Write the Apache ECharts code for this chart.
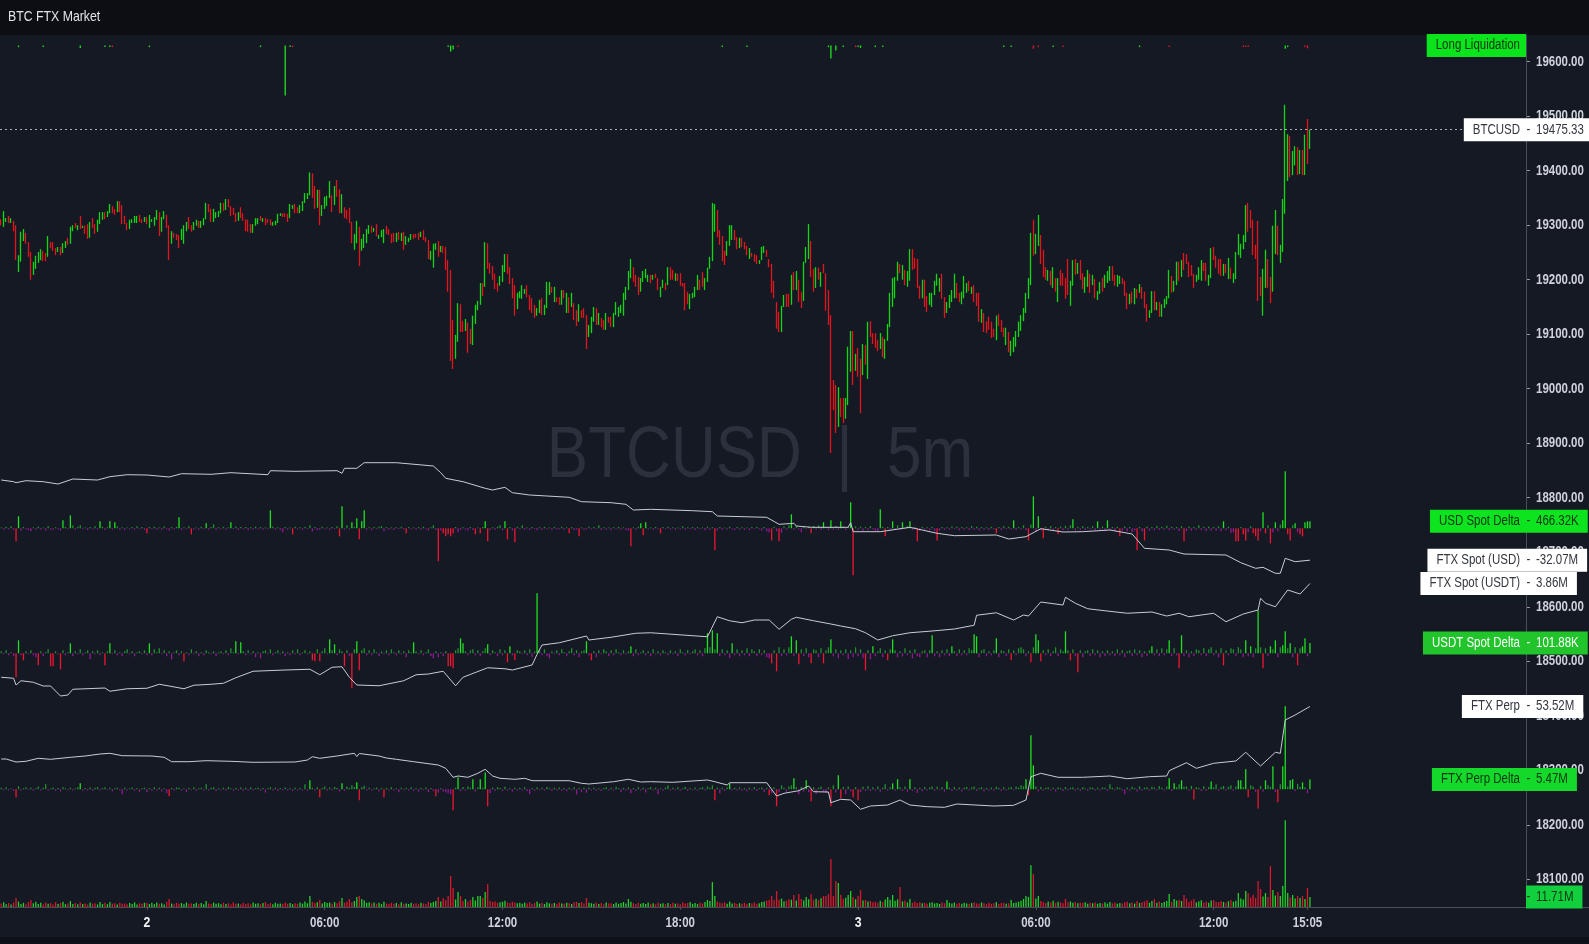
<!DOCTYPE html>
<html>
<head>
<meta charset="utf-8">
<title>BTC FTX Market</title>
<script src="https://cdn.jsdelivr.net/npm/echarts@6/dist/echarts.min.js"></script>
<style>
html, body { margin: 0; padding: 0; background: #151924; }
#chart { width: 1589px; height: 944px; }
</style>
</head>
<body>
<div id="chart"></div>
<script>
// 5m bars, index 0 = first bar on the left edge, index 530 = last bar
// candles: [open, close]
var candles = [
[19311,19300],[19297,19326],[19306,19313],[19317,19304],[19304,19313],[19308,19289],[19300,19236],[19214,19245],[19233,19288],[19271,19293],
[19286,19266],[19269,19242],[19251,19200],[19209,19233],[19220,19244],[19231,19251],[19236,19256],[19253,19234],[19249,19234],[19242,19280],
[19269,19258],[19269,19253],[19258,19245],[19251,19260],[19260,19245],[19249,19267],[19258,19271],[19277,19264],[19266,19297],[19289,19300],
[19304,19295],[19291,19300],[19317,19293],[19295,19299],[19299,19284],[19302,19275],[19277,19306],[19313,19295],[19302,19284],[19288,19310],
[19302,19324],[19310,19324],[19324,19311],[19315,19326],[19322,19339],[19335,19322],[19330,19319],[19324,19344],[19344,19324],[19337,19302],
[19317,19302],[19304,19291],[19293,19310],[19304,19311],[19304,19317],[19304,19317],[19319,19306],[19311,19304],[19306,19315],[19315,19302],
[19295,19319],[19306,19311],[19299,19315],[19310,19328],[19324,19280],[19288,19315],[19311,19326],[19319,19295],[19300,19236],[19266,19289],
[19286,19277],[19284,19273],[19282,19258],[19273,19293],[19266,19300],[19289,19306],[19315,19293],[19300,19288],[19291,19306],[19299,19310],
[19308,19295],[19295,19308],[19300,19313],[19311,19341],[19339,19324],[19330,19306],[19306,19330],[19313,19324],[19315,19326],[19322,19341],
[19341,19326],[19328,19348],[19348,19333],[19335,19317],[19332,19319],[19322,19306],[19308,19324],[19333,19313],[19322,19308],[19311,19289],
[19310,19288],[19302,19286],[19286,19302],[19299,19313],[19302,19313],[19317,19308],[19306,19313],[19313,19300],[19311,19304],[19311,19300],
[19299,19306],[19300,19308],[19304,19321],[19317,19322],[19322,19315],[19322,19315],[19321,19306],[19313,19339],[19330,19337],[19339,19322],
[19333,19322],[19322,19337],[19326,19344],[19341,19359],[19348,19359],[19355,19397],[19395,19350],[19372,19330],[19332,19365],[19365,19300],
[19317,19337],[19330,19352],[19335,19354],[19350,19381],[19355,19324],[19337,19372],[19383,19352],[19366,19322],[19322,19357],[19333,19313],
[19328,19311],[19332,19304],[19306,19267],[19255,19284],[19267,19308],[19297,19225],[19253,19275],[19258,19284],[19267,19293],[19284,19300],
[19299,19286],[19288,19295],[19302,19280],[19275,19282],[19278,19291],[19267,19293],[19299,19284],[19293,19282],[19284,19267],[19286,19269],
[19269,19286],[19288,19273],[19271,19286],[19288,19255],[19264,19280],[19269,19277],[19273,19284],[19284,19275],[19284,19277],[19286,19273],
[19278,19288],[19291,19273],[19278,19269],[19273,19238],[19236,19253],[19222,19266],[19255,19267],[19271,19242],[19251,19262],[19262,19249],
[19260,19218],[19236,19178],[19218,19051],[19126,19036],[19055,19099],[19086,19157],[19155,19104],[19124,19104],[19106,19128],[19121,19066],
[19110,19082],[19080,19134],[19119,19154],[19144,19161],[19154,19194],[19194,19170],[19187,19269],[19267,19220],[19231,19211],[19225,19200],
[19211,19183],[19194,19178],[19189,19207],[19196,19227],[19214,19247],[19247,19211],[19223,19192],[19203,19166],[19190,19134],[19146,19176],
[19166,19179],[19165,19190],[19174,19183],[19190,19168],[19172,19144],[19166,19139],[19154,19130],[19134,19148],[19139,19163],[19166,19135],
[19135,19154],[19148,19196],[19172,19196],[19187,19176],[19159,19187],[19168,19159],[19168,19154],[19154,19181],[19181,19166],[19139,19176],
[19168,19139],[19150,19176],[19157,19126],[19144,19115],[19123,19155],[19144,19130],[19148,19130],[19135,19073],[19095,19117],[19102,19132],
[19123,19150],[19148,19117],[19117,19139],[19130,19113],[19126,19108],[19108,19139],[19132,19121],[19132,19113],[19113,19139],[19135,19159],
[19132,19150],[19139,19154],[19134,19176],[19163,19187],[19181,19216],[19203,19238],[19223,19196],[19209,19187],[19205,19172],[19178,19203],
[19196,19216],[19203,19220],[19196,19209],[19209,19194],[19200,19209],[19211,19203],[19203,19181],[19168,19187],[19185,19200],[19194,19181],
[19190,19223],[19223,19200],[19218,19200],[19198,19212],[19211,19198],[19212,19189],[19194,19187],[19194,19144],[19178,19155],[19146,19174],
[19166,19176],[19168,19187],[19181,19209],[19200,19181],[19214,19187],[19181,19203],[19196,19222],[19220,19242],[19234,19341],[19288,19339],
[19328,19278],[19291,19264],[19280,19234],[19253,19227],[19244,19271],[19262,19300],[19273,19300],[19291,19273],[19278,19256],[19258,19277],
[19277,19260],[19269,19256],[19262,19245],[19238,19258],[19249,19242],[19247,19233],[19245,19229],[19229,19236],[19236,19260],[19249,19262],
[19255,19242],[19238,19223],[19229,19176],[19198,19166],[19159,19110],[19141,19104],[19104,19152],[19150,19172],[19174,19150],[19174,19150],
[19154,19209],[19214,19181],[19181,19216],[19200,19159],[19178,19148],[19161,19233],[19231,19260],[19238,19302],[19271,19205],[19220,19178],
[19185,19223],[19222,19200],[19187,19214],[19229,19212],[19212,19143],[19181,19117],[19135,18882],[19016,18961],[19007,18919],[18930,19003],
[18983,18948],[18983,18937],[18945,18983],[18970,19077],[19031,19106],[19106,19007],[19033,19064],[19075,19022],[19055,18955],[19025,19082],
[19080,19044],[19018,19123],[19124,19095],[19102,19082],[19102,19075],[19089,19069],[19073,19102],[19095,19058],[19055,19091],[19088,19119],
[19113,19176],[19150,19203],[19166,19205],[19198,19233],[19229,19212],[19200,19227],[19218,19190],[19187,19216],[19198,19256],[19256,19218],
[19240,19220],[19238,19185],[19189,19165],[19166,19200],[19200,19150],[19170,19141],[19154,19176],[19150,19176],[19172,19198],[19189,19211],
[19178,19203],[19211,19165],[19168,19130],[19139,19159],[19148,19172],[19159,19181],[19166,19211],[19194,19166],[19176,19159],[19155,19178],
[19166,19207],[19176,19194],[19198,19179],[19174,19187],[19190,19159],[19176,19152],[19176,19123],[19121,19146],[19139,19104],[19124,19102],
[19132,19108],[19123,19093],[19110,19095],[19089,19134],[19137,19115],[19126,19104],[19112,19095],[19080,19112],[19104,19067],[19060,19088],
[19067,19095],[19077,19106],[19095,19123],[19106,19135],[19124,19148],[19139,19176],[19165,19203],[19190,19286],[19310,19244],[19247,19284],
[19262,19319],[19282,19229],[19255,19205],[19223,19200],[19198,19218],[19216,19190],[19185,19223],[19203,19178],[19159,19203],[19218,19189],
[19212,19189],[19203,19165],[19238,19172],[19152,19198],[19189,19236],[19238,19209],[19211,19231],[19236,19200],[19212,19183],[19176,19205],
[19187,19218],[19211,19176],[19190,19209],[19201,19166],[19163,19179],[19174,19196],[19203,19178],[19185,19209],[19194,19216],[19198,19225],
[19225,19198],[19209,19189],[19187,19209],[19192,19207],[19203,19192],[19198,19170],[19176,19146],[19155,19174],[19178,19157],[19155,19185],
[19183,19166],[19176,19192],[19187,19165],[19178,19148],[19155,19123],[19130,19144],[19139,19179],[19179,19144],[19144,19159],[19159,19132],
[19132,19155],[19148,19165],[19155,19170],[19166,19218],[19207,19176],[19178,19198],[19190,19233],[19233,19198],[19205,19236],[19249,19218],
[19247,19229],[19233,19205],[19227,19207],[19211,19185],[19196,19209],[19200,19223],[19198,19236],[19231,19216],[19231,19198],[19189,19209],
[19203,19258],[19260,19236],[19244,19222],[19238,19211],[19238,19207],[19207,19229],[19229,19212],[19201,19240],[19222,19201],[19194,19212],
[19201,19251],[19245,19284],[19240,19266],[19256,19282],[19269,19337],[19341,19288],[19328,19295],[19310,19245],[19264,19238],[19308,19161],
[19205,19170],[19134,19220],[19185,19255],[19238,19185],[19205,19157],[19178,19299],[19247,19328],[19299,19245],[19231,19264],[19251,19348],
[19321,19521],[19381,19467],[19464,19388],[19392,19436],[19410,19445],[19443,19392],[19394,19438],[19438,19392],[19392,19466],[19495,19412],[19440,19475.33]
];

// USD Spot Delta (K)
var usdDelta = [
60,-90,110,-70,130,-110,-860,800,-150,90,-60,-130,-180,70,-100,120,-80,60,-140,150,-90,-120,70,-60,-150,530,90,-70,860,180,
-90,110,200,-70,60,-120,80,-60,130,-90,460,100,-110,70,460,-80,400,120,-90,70,-120,60,-70,90,-100,130,-60,80,-110,-330,
90,-70,110,-100,60,-90,120,-60,-140,80,-80,100,730,-110,70,-60,130,-400,-90,60,-100,110,-70,330,-80,90,260,-120,70,-60,
100,-90,60,400,-70,120,-110,80,-60,90,-130,70,-80,110,-60,90,-100,60,-70,1190,120,-90,70,-110,-260,80,-90,60,-400,100,
-80,70,-110,90,-60,200,-200,80,-120,-90,110,-70,60,-100,90,-60,130,-530,1460,-90,200,-70,400,90,660,-730,460,1190,-100,70,
-120,90,-60,110,150,-200,80,-90,60,-110,70,-60,100,-80,-330,90,-70,60,-100,80,-90,110,-60,-140,70,200,-110,-2190,-150,-330,
-530,-400,-530,-330,90,-260,-110,70,-90,-150,80,-120,-400,60,-330,90,460,-860,-110,70,-90,110,200,-120,460,-730,80,-140,-930,100,
-70,200,-90,60,-110,80,-60,-130,70,-90,100,-70,60,-100,90,-80,-60,110,-90,70,-330,80,-120,-90,-530,60,-100,-80,110,-70,
90,-60,200,-110,70,-90,60,-130,80,-70,100,-90,60,-110,-160,-1190,70,-90,110,330,-460,400,-80,60,-100,90,-70,-330,80,-60,
110,-90,70,-120,60,-80,130,-100,70,-60,90,-110,80,-70,60,-130,100,-90,70,-1460,-150,90,-100,60,-80,110,-60,-120,80,-90,
70,-100,60,-130,90,-70,110,-60,-150,80,-200,-260,-800,100,-200,-860,-300,120,-90,200,930,-110,150,-80,-260,90,-70,120,-330,160,
-90,200,-110,400,80,-130,530,-100,160,-90,460,120,-110,90,1720,-3110,130,-90,110,-160,90,-120,150,-80,-150,-200,1260,110,-530,90,
-100,460,-90,200,-120,400,-70,150,460,-110,90,-860,-160,100,-90,70,-130,110,-200,-800,-150,90,-110,70,-90,120,-60,100,-130,80,
-100,70,-120,150,-90,110,-140,80,-90,60,-120,100,-80,-330,90,-110,130,-70,110,-90,530,-120,90,-80,200,-130,-800,260,2120,-200,
800,-130,-660,110,-90,150,-120,90,-400,120,-110,160,-90,200,600,-130,100,-90,130,-120,90,-80,150,-110,460,-90,120,-140,530,-100,
90,-200,110,-530,-160,120,-190,90,-260,-140,-1460,100,-200,-800,120,-150,90,-130,160,-110,100,-90,170,-130,110,-100,90,-180,140,-860,
-200,120,-150,90,-110,200,-130,100,-180,120,-140,90,-160,130,-200,460,-130,110,-300,-260,-860,-860,90,-400,-800,-260,140,-330,-530,-800,
-200,1060,-330,200,-1000,-260,400,-200,260,530,3780,-400,-800,200,330,-260,-400,-530,400,460,466.32
];

// USDT Spot Delta (K)
var usdtDelta = [
20,-10,30,-20,10,-30,-240,130,-20,-70,20,-10,30,-20,-40,-120,20,-30,10,40,-130,-130,20,-10,-160,30,-20,10,100,-30,
20,-10,40,-20,10,30,-60,20,-10,30,-20,10,-120,20,100,-10,30,-20,10,-30,20,40,-10,20,-30,10,20,-10,30,-20,
100,-20,40,10,50,-10,30,-30,20,-60,10,30,-20,20,-80,10,-20,40,-10,20,-30,10,-20,30,10,-10,20,-30,10,20,
-10,30,-20,50,10,120,-10,110,20,-20,30,-10,20,-40,10,-50,20,30,-10,40,-20,10,30,-10,20,-30,10,-20,30,-10,
40,-20,10,30,-10,20,-70,-80,40,-80,20,50,-10,140,30,90,-20,40,20,-130,30,-30,-350,40,120,-170,30,50,-20,30,
-20,40,10,-30,20,-10,30,-20,40,10,-20,30,-10,20,-40,30,10,110,20,-10,30,-20,10,40,-30,-50,20,-40,10,-30,
20,-130,-130,-150,30,50,150,100,20,-20,30,40,-20,30,-30,20,50,90,-20,30,10,-30,40,-20,30,-90,70,-20,-70,30,
20,-10,30,-20,40,-40,20,600,30,-20,40,-30,-50,20,-10,30,-20,40,10,-30,20,50,-20,30,-40,20,30,120,-20,-70,
20,-40,30,-10,40,20,-30,30,-20,40,10,-20,30,-10,20,70,-30,40,-20,10,30,-20,20,-30,40,-10,20,-20,30,10,
-20,30,-10,20,-30,40,10,-20,30,-10,20,40,-20,30,-30,50,200,60,230,40,200,-30,40,-20,30,-50,100,-20,40,-30,
30,-20,50,-30,40,20,-30,40,-20,30,-40,-50,-100,30,-180,60,-30,40,-20,60,170,-30,130,-110,40,-30,50,-40,-100,40,
30,-40,50,-100,30,60,140,-30,40,-50,30,-20,40,-60,30,-40,60,-30,40,-50,-170,30,-60,70,-30,20,50,-40,30,-70,
40,140,30,-40,20,-30,50,-20,30,-50,40,-30,-40,20,30,-40,30,180,-30,20,-40,30,-20,40,-30,70,20,-30,40,-20,
30,-20,50,30,190,170,-40,30,40,-30,20,-20,30,150,-40,30,20,-30,40,-70,30,-20,50,60,40,-30,20,-90,60,190,
130,-80,30,-20,40,-30,20,60,-30,40,20,220,30,-70,40,-30,-190,30,-40,20,30,-30,40,-20,30,-40,20,-30,30,-20,
20,-30,40,-20,30,-40,20,30,-30,40,-20,30,-40,20,-30,30,70,-20,40,-30,50,-20,40,130,-30,50,-20,-150,180,-30,
30,-40,20,-30,40,30,-20,50,-30,40,60,-20,30,-40,50,-120,30,-20,50,40,-30,60,40,-40,130,-30,70,-40,50,430,
60,-150,50,-30,70,40,130,-40,60,80,220,50,100,-40,60,-120,50,70,150,-30,101.88
];

// FTX Perp Delta (M)
var perpDelta = [
0.8,-0.5,1.1,-0.6,0.5,-0.9,-4.4,1.7,-0.7,0.6,1.2,-0.5,0.9,-0.8,0.6,1.5,-0.6,0.8,2.8,-0.7,0.5,1.0,-0.9,0.7,-1.2,1.1,0.6,-0.5,0.9,-0.7,
0.6,1.1,3.3,-0.8,0.7,-0.6,1.0,-0.9,0.8,1.3,-0.6,0.7,1.2,-0.5,0.9,-1.1,0.6,0.8,-0.7,-2.8,0.9,-0.6,0.5,1.0,-0.8,0.7,-1.4,0.6,0.9,-1.6,
0.7,-0.8,1.1,-0.6,0.8,-1.2,0.6,-2.2,-3.9,0.7,-0.6,1.0,0.8,-0.7,0.6,-1.6,0.9,-0.5,1.2,-0.8,0.6,0.9,-0.7,2.8,-0.6,0.8,1.1,-0.9,0.6,-0.5,
0.9,-0.7,1.3,0.6,-0.8,0.7,-0.6,1.0,-0.9,0.8,-0.6,1.1,-0.7,0.6,0.9,-0.8,0.7,-1.8,0.6,1.2,-0.6,0.8,-0.9,0.7,-0.5,1.0,-0.7,0.6,-1.0,0.8,
-0.6,0.9,-0.7,2.8,-0.8,5.0,0.9,-0.6,1.1,-4.4,0.7,1.6,-0.8,1.0,-0.6,1.3,0.7,-1.2,3.3,-0.9,1.5,0.8,2.2,1.3,3.9,-6.1,1.2,2.0,-0.7,0.9,
-0.8,0.6,1.0,-1.1,0.7,-4.4,0.8,-0.6,1.2,-0.7,0.6,-1.6,0.9,-0.5,0.8,-0.7,1.1,-0.9,0.6,-1.3,0.8,-0.6,1.0,-1.5,0.7,-1.0,-3.9,-1.8,0.6,-1.2,
-1.6,-2.2,-2.8,-11.7,0.9,6.7,-1.1,1.3,-0.8,1.6,0.9,5.6,-1.2,1.1,5.6,0.8,9.4,-9.4,-2.0,1.0,-0.9,1.2,0.7,-1.0,1.4,-0.8,0.6,-1.3,0.9,-0.7,
0.8,-0.6,1.1,-0.9,-2.8,0.7,-0.8,1.2,-0.6,0.9,-0.7,1.3,0.6,-0.9,0.8,-0.6,1.0,-0.8,0.7,-1.1,0.9,-0.6,1.2,-2.8,0.7,-1.6,0.8,-1.9,1.0,-0.7,
0.9,-0.8,0.6,-1.0,0.7,1.2,-0.6,0.9,-0.7,1.4,0.6,-1.5,0.8,-0.6,1.0,-2.2,0.7,-0.9,1.1,-0.6,0.8,-1.8,0.6,1.2,-0.7,0.9,-2.8,0.6,-0.8,1.0,
2.2,-0.7,0.9,-0.6,1.1,-0.8,0.6,1.3,-0.9,0.7,-0.6,1.0,-0.7,0.8,1.2,-0.6,1.6,0.9,2.2,-6.1,1.0,-2.2,0.8,-0.9,1.1,3.3,-0.7,0.9,-0.6,1.0,
-0.8,0.7,-1.1,0.9,-0.6,1.2,-0.9,0.6,1.0,-1.5,0.8,-3.3,-2.2,1.1,-9.4,-1.6,2.2,0.8,-1.3,1.6,2.2,6.1,1.1,-2.8,1.4,-1.2,5.0,-1.6,-6.7,1.2,
-2.5,0.9,1.6,-1.2,-2.0,1.1,-9.4,2.2,-1.8,7.8,-5.0,1.3,-2.8,1.6,-1.1,-4.4,1.2,-6.1,-1.6,1.4,-0.9,1.7,-1.0,1.2,-0.8,1.6,-1.3,0.9,2.8,-0.7,
1.2,3.3,-0.8,5.6,1.1,-0.9,1.6,-1.4,5.6,-0.8,1.2,-2.0,0.9,-1.1,1.3,-0.7,1.0,1.6,-0.9,1.4,-0.6,1.1,-1.3,4.4,0.8,-0.9,1.2,-0.6,1.0,-1.2,
0.8,1.3,-0.7,1.0,1.6,-0.9,0.7,1.2,-1.1,0.8,-0.6,1.0,-0.8,1.4,0.7,-0.9,1.1,-0.7,0.8,1.3,-0.6,1.6,0.9,2.2,1.7,5.6,-3.3,30.0,13.3,1.6,
-1.1,1.3,-0.8,0.9,1.2,-0.7,0.8,-1.2,1.0,0.7,-0.9,1.3,-0.6,0.9,1.1,-0.8,0.7,-1.0,1.2,0.6,-0.8,1.0,0.9,-0.7,0.9,-0.7,1.1,0.8,-0.9,2.8,
0.9,-0.7,1.1,0.8,-0.6,-2.8,1.0,-0.8,1.4,0.7,-1.2,1.6,-0.7,0.9,1.2,-0.8,1.4,1.0,-0.6,1.8,0.9,-0.7,1.6,6.1,-0.9,3.3,1.2,2.8,5.0,1.4,
1.6,-0.8,1.9,-5.6,1.2,0.9,-1.0,1.7,-0.8,1.3,4.4,1.0,2.8,-0.9,1.2,1.9,-0.8,1.4,2.2,-0.9,1.6,5.0,5.0,1.3,11.1,-4.4,2.2,1.6,-1.4,-10.6,
1.9,-1.2,5.0,2.2,1.4,12.8,-1.6,-7.2,2.8,12.8,46.2,1.6,5.0,5.6,-1.1,3.0,1.4,3.9,1.2,-2.2,5.47
];

// volume (M)
var volume = [
4.1,5.6,3.2,4.6,2.9,5.1,10.5,6.4,3.5,4.8,3.1,5.9,8.2,4.3,6.2,3.6,4.9,2.8,5.3,3.9,4.4,3.0,5.6,3.4,4.7,6.1,3.3,4.2,7.0,3.6,
4.8,3.1,5.7,3.5,4.1,2.9,5.2,3.8,4.5,3.0,6.0,3.6,4.9,3.2,5.8,3.9,4.4,2.8,5.1,3.7,4.2,3.1,4.8,3.4,5.5,3.0,4.3,3.7,5.0,4.6,
3.5,4.9,3.2,5.4,3.8,4.4,3.0,6.3,9.4,4.1,3.3,5.0,3.7,4.6,3.1,5.3,3.9,4.2,3.4,5.1,3.6,4.7,3.2,7.0,4.0,3.5,5.2,3.8,4.5,3.1,
5.0,3.6,4.4,3.0,5.6,3.7,4.1,3.3,4.9,3.5,4.5,3.1,5.2,3.8,4.3,3.4,4.8,5.9,3.6,4.6,3.2,5.0,3.9,4.2,3.4,5.4,3.7,4.7,3.3,4.4,
3.8,5.2,4.0,6.4,4.5,12.9,6.1,4.8,5.5,8.2,4.2,6.0,4.6,5.3,3.9,5.8,4.4,6.6,10.5,5.0,6.3,9.4,5.6,7.0,11.7,12.9,9.4,7.5,4.9,5.7,
4.3,5.4,3.7,4.9,3.4,6.1,4.0,3.6,5.0,3.9,4.6,3.3,5.5,3.8,4.2,3.5,5.1,3.7,4.4,3.2,5.0,4.1,3.6,6.2,4.8,5.9,7.0,11.7,6.4,10.5,
8.2,12.9,36.3,22.2,8.8,17.6,12.9,7.0,9.4,6.4,8.2,11.7,7.6,12.9,12.9,10.5,17.6,26.9,7.0,5.9,6.6,4.9,5.6,6.2,7.3,5.2,4.7,6.1,5.4,4.3,
4.9,3.8,5.3,4.1,5.7,3.6,4.6,6.5,4.0,5.1,3.5,5.6,4.3,3.8,4.8,3.4,5.2,4.0,3.7,4.9,4.4,3.5,5.5,6.0,4.7,5.8,4.2,10.5,5.0,4.4,
3.9,5.1,3.6,4.7,3.3,5.4,4.0,4.5,3.5,5.2,3.8,4.6,5.9,4.1,9.4,6.2,4.4,3.6,5.0,3.9,4.8,3.4,5.3,3.7,4.5,3.2,4.9,3.8,4.4,3.3,
4.6,3.5,5.1,3.9,4.2,3.3,5.5,4.0,4.6,5.8,3.7,4.8,3.4,5.0,4.1,6.0,8.2,7.0,29.3,12.9,6.4,5.2,4.4,5.6,3.8,6.6,4.2,4.9,3.6,4.5,
3.9,5.0,3.6,4.7,4.1,5.4,3.7,4.4,5.8,6.6,7.5,8.2,12.9,7.9,18.7,8.4,9.9,6.8,7.3,9.1,8.5,14.0,7.7,15.2,9.4,8.0,11.7,9.0,15.2,8.6,
9.6,8.1,10.3,12.9,12.9,15.2,56.2,12.9,30.4,28.1,14.0,9.8,11.0,14.0,18.7,11.7,9.1,12.9,19.9,7.6,8.2,6.4,7.0,5.5,6.1,4.9,7.4,5.8,8.8,11.7,
8.4,14.0,7.2,9.0,23.4,6.6,7.7,5.4,9.4,5.0,6.2,4.6,5.7,4.3,5.1,3.8,4.9,5.5,4.2,4.7,3.6,5.3,4.4,8.2,4.9,4.0,5.2,3.7,4.6,3.9,
5.0,4.1,3.6,4.8,5.6,4.2,3.8,5.3,4.5,3.5,4.9,3.7,4.4,5.9,3.4,4.6,5.1,3.9,4.3,8.2,4.7,5.4,6.2,7.3,9.4,12.9,11.7,49.1,38.6,9.9,
12.9,7.0,5.8,4.6,6.4,5.2,7.3,4.8,6.1,5.5,4.4,9.4,5.6,6.5,4.9,5.8,4.3,5.1,4.6,5.7,3.9,5.0,4.4,5.3,3.8,4.7,4.1,5.5,4.0,6.0,
4.3,5.2,3.9,4.8,4.2,5.6,6.3,4.5,5.4,4.0,7.0,4.7,5.9,6.6,7.8,4.9,7.0,9.4,5.1,6.4,4.6,5.8,6.9,15.2,6.1,9.4,7.5,8.2,7.0,14.0,
9.9,6.0,7.6,9.4,5.4,6.8,7.9,5.2,6.6,5.0,7.7,8.2,6.3,5.7,7.1,6.0,5.3,6.9,8.2,6.2,7.4,16.4,9.9,8.8,18.7,16.4,11.1,14.0,10.5,30.4,
21.1,12.3,16.4,11.7,48.0,19.9,13.5,17.6,12.9,24.6,101.8,16.4,11.1,14.0,9.9,12.9,10.5,12.9,9.4,22.2,11.71
];

// liquidations (K), [bar index, size]
var liqLong = [[7,8],[17,8],[32,12],[42,8],[44,8],[60,8],[105,8],[115,250],[117,8],[181,8],[182,30],[183,20],
  [292,8],[302,8],[335,8],[336,65],[338,25],[341,8],[347,8],[348,12],[354,8],[357,8],[406,8],[409,8],[426,8],[461,8],[520,16],[521,8]];
var liqShort = [[45,8],[118,8],[185,8],[346,8],[418,16],[420,8],[430,8],[473,8],[503,8],[504,8],[505,8],[528,8],[529,14]];

// cumulative delta lines (M), [bar index, value]
var usdLine = [[0,0],[5,-0.68],[6,-1.08],[10,-0.28],[17,-0.68],[23,-1.6],[29,0.4],[39,0],[44,1.32],[51,2.12],[59,2.0],[68,1.2],[73,2.52],
  [85,2.28],[93,2.92],[108,2.12],[109,3.72],[119,3.48],[136,3.72],[138,2.68],[139,4.68],[144,4.68],[147,6.92],[160,6.92],[175,5.6],
  [178,2.92],[180,0.68],[187,-0.68],[196,-3.32],[199,-4.0],[204,-2.92],[207,-5.08],[214,-6.0],[221,-6.4],[230,-6.92],[235,-8.68],
  [247,-9.08],[253,-9.72],[256,-12.0],[263,-11.72],[280,-12.28],[288,-12.68],[290,-14.4],[310,-14.92],[315,-17.72],[321,-17.32],
  [322,-18.4],[328,-18.92],[343,-18.92],[344,-17.08],[345,-20.68],[356,-20.68],[368,-18.92],[379,-21.32],[386,-22.28],[403,-22.0],
  [408,-23.6],[415,-22.68],[421,-19.48],[430,-20.8],[438,-20.68],[449,-20.0],[458,-21.6],[463,-27.32],[473,-28.0],[479,-29.6],
  [496,-30.0],[502,-33.08],[508,-35.32],[511,-34.92],[516,-37.32],[518,-37.32],[520,-31.32],[524,-32.68],[530,-32.07]];
var usdtLine = [[0,0.11],[5,0.07],[6,-0.2],[8,-0.03],[13,-0.09],[17,-0.24],[20,-0.24],[24,-0.64],[27,-0.6],[29,-0.37],[42,-0.32],
  [44,-0.45],[51,-0.35],[59,-0.33],[64,-0.17],[68,-0.24],[74,-0.35],[78,-0.21],[85,-0.17],[90,-0.13],[95,0.09],[102,0.35],[115,0.4],
  [125,0.43],[129,0.21],[134,0.51],[138,0.53],[141,0.11],[144,-0.2],[153,-0.23],[163,-0.03],[168,0.21],[173,0.24],[179,0.35],
  [184,-0.23],[187,0.11],[197,0.49],[204,0.45],[207,0.4],[215,0.6],[217,1.03],[219,1.4],[226,1.49],[237,1.76],[238,1.6],[247,1.71],
  [257,1.87],[263,1.89],[286,1.73],[290,2.53],[295,2.37],[300,2.29],[305,2.4],[311,2.4],[315,2.03],[320,2.43],[322,2.51],[329,2.37],
  [336,2.24],[340,2.16],[346,2.05],[350,1.89],[355,1.6],[361,1.77],[368,1.89],[377,1.96],[386,2.04],[394,2.19],[395,2.59],[403,2.69],
  [410,2.4],[414,2.6],[416,2.56],[421,3.12],[430,3.0],[431,3.31],[435,3.07],[440,2.85],[447,2.77],[456,2.67],[466,2.72],[472,2.56],
  [477,2.67],[481,2.53],[491,2.67],[496,2.33],[503,2.64],[509,2.8],[510,3.27],[512,3.07],[516,2.93],[521,3.6],[526,3.44],[530,3.86]];
var perpLine = [[0,1.0],[2,1.0],[6,-2.0],[10,-1.3],[15,1.7],[20,0.7],[28,2.7],[34,4.0],[40,6.0],[44,6.7],[49,4.3],[61,4.0],[66,2.7],
  [69,-1.7],[76,-1.7],[83,-0.7],[93,-1.3],[102,-2.3],[119,-2.0],[124,0],[126,3.3],[129,1.7],[136,4.0],[143,6.7],[144,3.5],[145,6.5],
  [153,4.0],[156,2.0],[160,0.7],[167,-1.7],[177,-5.0],[180,-8.3],[183,-17.3],[185,-16.0],[189,-17.3],[193,-13.3],[196,-9.3],
  [199,-16.0],[202,-18.3],[208,-19.3],[212,-18.3],[215,-20.7],[230,-20.7],[235,-23.3],[238,-24.0],[248,-21.7],[254,-19.3],
  [259,-22.0],[263,-21.7],[272,-22.3],[286,-20.0],[289,-21.7],[294,-25.0],[295,-22.7],[310,-22.7],[314,-36.0],[317,-33.3],
  [323,-30.7],[327,-26.0],[329,-31.7],[335,-32.0],[336,-42.7],[340,-39.3],[344,-40.0],[348,-49.3],[352,-46.0],[359,-45.0],
  [364,-40.0],[368,-45.0],[375,-46.7],[382,-47.3],[387,-44.0],[402,-46.0],[410,-45.3],[415,-40.0],[417,-16.7],[421,-13.3],
  [428,-17.3],[438,-17.3],[449,-16.0],[456,-18.7],[465,-16.7],[472,-16.0],[473,-10.7],[480,-2.7],[484,-8.3],[491,-3.3],
  [500,-1.0],[504,7.7],[510,-6.0],[516,7.7],[518,6.7],[520,40.0],[524,45.0],[530,53.52]];

// axis labels
var priceTicks = [18100, 18200, 18300, 18400, 18500, 18600, 18700, 18800, 18900, 19000, 19100, 19200, 19300, 19400, 19500, 19600];
var timeTickIndex = [59, 131, 203, 275, 347, 419, 491, 529];
var timeTickText = ['2', '06:00', '12:00', '18:00', '3', '06:00', '12:00', '15:05'];
var tagNames = ['Long Liquidation', 'BTCUSD', 'USD Spot Delta', 'FTX Spot (USD)', 'FTX Spot (USDT)', 'USDT Spot Delta', 'FTX Perp', 'FTX Perp Delta', ''];

var UP = '#12d814', DOWN = '#e5151d';
var uiFont = '"Liberation Sans", Arial, sans-serif';
var NARROW = 0.82;  // horizontal squeeze to get a narrow face
var SLOTS = 618;    // bars + empty space on the right

var cats = [];
var t0 = Date.UTC(2022, 9, 1, 19, 5);
for (var i = 0; i < SLOTS; i++) {
  cats.push(new Date(t0 + i * 300000).toISOString().slice(0, 16).replace('T', ' '));
}

// [top, height] of every pane, all share the same horizontal layout
var panes = [
  [7.19, 926.6],  // candles
  [45.5, 100],    // liquidations
  [440, 160],     // FTX Spot (USD)
  [448.3, 160],   // USD Spot Delta
  [560, 160],     // FTX Spot (USDT)
  [573.3, 160],   // USDT Spot Delta
  [690, 130],     // FTX Perp
  [699.3, 180],   // FTX Perp Delta
  [757, 150]      // volume
];
var ranges = [[18000, 19700], [0, 500], [-48, 16], [-5300, 5300], [-1.6, 4.8], [-800, 800], [-60, 70], [-50, 50], [0, 176]];

var isTick = function (idx) { return timeTickIndex.indexOf(idx) >= 0; };

var grids = [], xAxes = [], yAxes = [];
panes.forEach(function (p, g) {
  grids.push({ left: 0, right: 63, top: p[0], height: p[1], containLabel: false, outerBoundsMode: 'none' });
  var showX = g === 8;
  xAxes.push({
    type: 'category', gridIndex: g, data: cats, boundaryGap: true,
    axisLine: { show: false }, splitLine: { show: false }, axisLabel: { show: false },
    axisTick: showX ? { show: true, interval: isTick, alignWithLabel: true, length: 3, lineStyle: { color: '#4a4e59' } } : { show: false }
  });
  yAxes.push({
    type: 'value', gridIndex: g, min: ranges[g][0], max: ranges[g][1], show: g === 0,
    inverse: g === 1, splitLine: { show: false }
  });
});

// price axis on the right (labels are drawn below with a narrow face)
Object.assign(yAxes[0], {
  position: 'right', interval: 100,
  axisLine: { show: false },
  axisTick: { show: true, length: 4, customValues: priceTicks, lineStyle: { color: '#9598a1' } },
  axisLabel: { show: false }
});

function deltaColor(limit) {
  return function (p) {
    var v = p.value;
    if (v >= 0) return v > limit ? '#1fe022' : '#1f922e';
    return v < -limit ? '#f01631' : '#951896';
  };
}

var lineStyle = { color: '#c9ccd4', width: 1 };

var option = {
  backgroundColor: '#151924',
  animation: false,
  grid: grids,
  xAxis: xAxes,
  yAxis: yAxes,
  series: [
    {
      type: 'candlestick', xAxisIndex: 0, yAxisIndex: 0, barWidth: 1, z: 4,
      data: candles.map(function (c) { return [c[0], c[1], Math.min(c[0], c[1]), Math.max(c[0], c[1])]; }),
      itemStyle: { color: UP, color0: DOWN, borderColor: UP, borderColor0: DOWN, borderWidth: 1.3 },
      markLine: {
        silent: true, symbol: ['none', 'none'], label: { show: false },
        lineStyle: { color: '#a9acb5', type: [2, 3], width: 1 },
        data: [{ yAxis: candles[candles.length - 1][1] }]
      }
    },
    { type: 'bar', xAxisIndex: 1, yAxisIndex: 1, data: liqLong, barWidth: 1.3, itemStyle: { color: '#1ee61f' } },
    { type: 'bar', xAxisIndex: 1, yAxisIndex: 1, data: liqShort, barWidth: 1.3, barGap: '-100%', itemStyle: { color: '#f0142a' } },
    { type: 'bar', xAxisIndex: 3, yAxisIndex: 3, data: usdDelta, barWidth: 1.3, itemStyle: { color: deltaColor(300) } },
    { type: 'line', xAxisIndex: 2, yAxisIndex: 2, data: usdLine, symbol: 'none', lineStyle: lineStyle, z: 5 },
    { type: 'bar', xAxisIndex: 5, yAxisIndex: 5, data: usdtDelta, barWidth: 1.3, itemStyle: { color: deltaColor(60) } },
    { type: 'line', xAxisIndex: 4, yAxisIndex: 4, data: usdtLine, symbol: 'none', lineStyle: lineStyle, z: 5 },
    { type: 'bar', xAxisIndex: 7, yAxisIndex: 7, data: perpDelta, barWidth: 1.3, itemStyle: { color: deltaColor(3) } },
    { type: 'line', xAxisIndex: 6, yAxisIndex: 6, data: perpLine, symbol: 'none', lineStyle: lineStyle, z: 5 },
    {
      type: 'bar', xAxisIndex: 8, yAxisIndex: 8, data: volume, barWidth: 1.3,
      itemStyle: {
        color: function (p) {
          var c = candles[p.dataIndex];
          return c[1] >= c[0] ? '#22d12a' : '#d8182c';
        }
      }
    }
  ]
};

var chart = echarts.init(document.getElementById('chart'));
chart.setOption(option);

// ---- text drawn with a squeezed face ----
var ctx = document.createElement('canvas').getContext('2d');
function textWidth(t, size, bold) {
  ctx.font = (bold ? 'bold ' : '') + size + 'px ' + uiFont;
  return ctx.measureText(t).width * NARROW;
}
function narrowText(t, x, y, size, color, align, bold, z, squeeze) {
  return {
    type: 'text', z: z || 55, silent: true, x: x, y: y, scaleX: squeeze || NARROW,
    style: {
      text: t, x: 0, y: 0, font: (bold ? 'bold ' : '') + size + 'px ' + uiFont, fill: color,
      textAlign: align, textVerticalAlign: 'middle', align: align, verticalAlign: 'middle'
    }
  };
}
function last(a) { var v = a[a.length - 1]; return Array.isArray(v) ? v[1] : v; }

var graphics = [
  // watermark
  narrowText('BTCUSD  |  5m', 760, 457, 73, '#2c303c', 'center', false, 0, 0.85),
  // axis lines
  { type: 'line', z: 40, silent: true, shape: { x1: 1526.5, y1: 35, x2: 1526.5, y2: 907 }, style: { stroke: '#4a4e59', lineWidth: 1 } },
  { type: 'line', z: 40, silent: true, shape: { x1: 0, y1: 907.5, x2: 1589, y2: 907.5 }, style: { stroke: '#4a4e59', lineWidth: 1 } },
  // header and bottom strip
  { type: 'rect', z: 50, silent: true, shape: { x: 0, y: 0, width: 1589, height: 35 }, style: { fill: '#0c0e13' } },
  { type: 'rect', z: 50, silent: true, shape: { x: 0, y: 937, width: 1589, height: 7 }, style: { fill: '#0e1117' } },
  narrowText('BTC FTX Market', 8, 17, 15, '#e2e4ea', 'left', false, 51)
];

// price labels from the price axis
priceTicks.forEach(function (v) {
  var y = chart.convertToPixel({ yAxisIndex: 0 }, v);
  graphics.push(narrowText(v.toFixed(2), 1536, y, 14, '#cfd2da', 'left', true, 55));
});

// time labels from the bottom axis
timeTickIndex.forEach(function (idx, k) {
  var x = chart.convertToPixel({ xAxisIndex: 8 }, idx);
  var t = timeTickText[k];
  var day = t.indexOf(':') < 0;
  graphics.push(narrowText(t, x, 923, day ? 15 : 14, day ? '#f0f2f5' : '#cfd2da', 'center', true, 55));
});

// price tags on the right, placed at each series' last value
var tagDefs = [
  { axis: 1, value: 0, text: '', bg: '#0be31c', fg: '#0f3512' },
  { axis: 0, value: last(candles), text: last(candles).toFixed(2), bg: '#ffffff', fg: '#33363f' },
  { axis: 3, value: last(usdDelta), text: last(usdDelta).toFixed(2) + 'K', bg: '#0ee31f', fg: '#0f3512' },
  { axis: 2, value: last(usdLine), text: last(usdLine).toFixed(2) + 'M', bg: '#ffffff', fg: '#33363f' },
  { axis: 4, value: last(usdtLine), text: last(usdtLine).toFixed(2) + 'M', bg: '#ffffff', fg: '#33363f' },
  { axis: 5, value: last(usdtDelta), text: last(usdtDelta).toFixed(2) + 'K', bg: '#21c52b', fg: '#ffffff' },
  { axis: 6, value: last(perpLine), text: last(perpLine).toFixed(2) + 'M', bg: '#ffffff', fg: '#33363f' },
  { axis: 7, value: last(perpDelta), text: last(perpDelta).toFixed(2) + 'M', bg: '#14d92a', fg: '#0f3512' },
  { axis: 8, value: last(volume), text: last(volume).toFixed(2) + 'M', bg: '#12cf3d', fg: '#0f3512' }
];

tagDefs.forEach(function (d, k) {
  var y = chart.convertToPixel({ yAxisIndex: d.axis }, d.value);
  var name = tagNames[k];
  var nameRight = 1520, valueLeft = 1536;
  var left = name ? nameRight - textWidth(name, 14) - 9 : 1526;
  var right = d.text ? Math.min(1589, valueLeft + textWidth(d.text, 14) + 9) : 1526;
  graphics.push({ type: 'rect', z: 60, silent: true, shape: { x: left, y: y - 11.5, width: right - left, height: 23 }, style: { fill: d.bg } });
  if (name) graphics.push(narrowText(name, nameRight, y, 14, d.fg, 'right', false, 61));
  if (d.text) {
    graphics.push(narrowText('-', 1528.5, y, 14, d.fg, 'center', false, 61));
    graphics.push(narrowText(d.text, valueLeft, y, 14, d.fg, 'left', false, 61));
  }
});

chart.setOption({ graphic: graphics });
</script>
</body>
</html>
